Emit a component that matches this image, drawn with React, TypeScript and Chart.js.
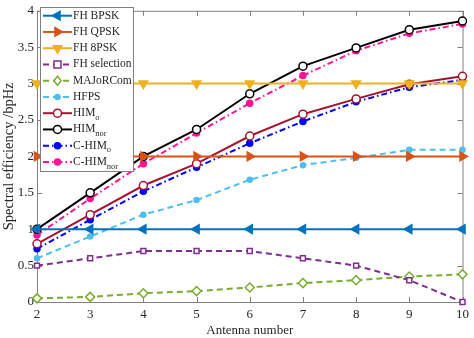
import React, { useEffect, useRef } from 'react';
import { Chart, registerables } from 'chart.js';

Chart.register(...registerables);

const antennas = [2, 3, 4, 5, 6, 7, 8, 9, 10];
const fhBpsk = [1, 1, 1, 1, 1, 1, 1, 1, 1];
const fhQpsk = [2, 2, 2, 2, 2, 2, 2, 2, 2];
const fh8psk = [3, 3, 3, 3, 3, 3, 3, 3, 3];
const fhSelection = [0.5, 0.6, 0.7, 0.7, 0.7, 0.6, 0.5, 0.3, 0.0];
const majorcom = [0.05, 0.07, 0.12, 0.15, 0.2, 0.26, 0.3, 0.35, 0.38];
const hfps = [0.6, 0.9, 1.2, 1.4, 1.68, 1.88, 1.98, 2.09, 2.09];
const himO = [0.8, 1.2, 1.6, 1.9, 2.28, 2.58, 2.79, 2.99, 3.1];
const himNor = [1.0, 1.5, 2.0, 2.37, 2.86, 3.24, 3.49, 3.74, 3.86];
const cHimO = [0.73, 1.13, 1.52, 1.85, 2.18, 2.48, 2.75, 2.95, 3.05];
const cHimNor = [0.92, 1.42, 1.9, 2.32, 2.73, 3.11, 3.45, 3.69, 3.82];
const yTicks = [0, 0.5, 1, 1.5, 2, 2.5, 3, 3.5, 4];
const xTitle = 'Antenna number';
const yTitle = 'Spectral efficiency /bpHz';

type Series = {
  main: string;
  sub: string;
  data: number[];
  color: string;
  dash: number[];
  marker: string;
  rot: number;
  radius: number;
  filled: boolean;
};

const series: Series[] = [
  { main: 'FH BPSK', sub: '', data: fhBpsk, color: '#0072BD', dash: [], marker: 'triangle', rot: -90, radius: 5, filled: true },
  { main: 'FH QPSK', sub: '', data: fhQpsk, color: '#D95319', dash: [], marker: 'triangle', rot: 90, radius: 5, filled: true },
  { main: 'FH 8PSK', sub: '', data: fh8psk, color: '#EDB120', dash: [], marker: 'triangle', rot: 180, radius: 5, filled: true },
  { main: 'FH selection', sub: '', data: fhSelection, color: '#7E2F8E', dash: [6, 4], marker: 'rect', rot: 0, radius: 3.5, filled: false },
  { main: 'MAJoRCom', sub: '', data: majorcom, color: '#77AC30', dash: [6, 4], marker: 'rectRot', rot: 0, radius: 4.5, filled: false },
  { main: 'HFPS', sub: '', data: hfps, color: '#4DBEEE', dash: [6, 4], marker: 'circle', rot: 0, radius: 2.5, filled: true },
  { main: 'HIM', sub: 'o', data: himO, color: '#A2142F', dash: [], marker: 'circle', rot: 0, radius: 4, filled: false },
  { main: 'HIM', sub: 'nor', data: himNor, color: '#000000', dash: [], marker: 'circle', rot: 0, radius: 4, filled: false },
  { main: 'C-HIM', sub: 'o', data: cHimO, color: '#0000FF', dash: [6, 3, 1.5, 3], marker: 'circle', rot: 0, radius: 3, filled: true },
  { main: 'C-HIM', sub: 'nor', data: cHimNor, color: '#FF1493', dash: [6, 3, 1.5, 3], marker: 'circle', rot: 0, radius: 3, filled: true },
];

const AXIS = '#808080';
const TEXT = '#262626';
const FONT = "'Liberation Serif', 'Times New Roman', serif";

function drawMarker(ctx: CanvasRenderingContext2D, s: Series, x: number, y: number) {
  const r = s.radius;
  ctx.save();
  ctx.setLineDash([]);
  ctx.lineWidth = 1.5;
  ctx.strokeStyle = s.color;
  ctx.fillStyle = s.filled ? s.color : '#ffffff';
  ctx.beginPath();
  if (s.marker === 'circle') {
    ctx.arc(x, y, r, 0, Math.PI * 2);
  } else if (s.marker === 'rect') {
    ctx.rect(x - r, y - r, 2 * r, 2 * r);
  } else if (s.marker === 'rectRot') {
    ctx.moveTo(x, y - r);
    ctx.lineTo(x + r * 0.8, y);
    ctx.lineTo(x, y + r);
    ctx.lineTo(x - r * 0.8, y);
    ctx.closePath();
  } else if (s.marker === 'triangle') {
    for (let k = 0; k < 3; k++) {
      const a = ((s.rot - 90 + k * 120) * Math.PI) / 180;
      const px = x + r * Math.cos(a);
      const py = y + r * Math.sin(a);
      if (k === 0) ctx.moveTo(px, py);
      else ctx.lineTo(px, py);
    }
    ctx.closePath();
  }
  ctx.fill();
  ctx.stroke();
  ctx.restore();
}

const framePlugin = {
  id: 'frame',
  beforeDatasetsDraw(chart: any) {
    const { ctx, chartArea } = chart;
    const { left, right, top, bottom } = chartArea;
    const xs = chart.scales.x;
    const ys = chart.scales.y;
    ctx.save();
    ctx.strokeStyle = AXIS;
    ctx.lineWidth = 1;
    ctx.strokeRect(left + 0.5, top + 0.5, right - left, bottom - top);
    ctx.beginPath();
    antennas.forEach((_, i) => {
      const px = Math.round(xs.getPixelForValue(i)) + 0.5;
      ctx.moveTo(px, bottom);
      ctx.lineTo(px, bottom - 5);
      ctx.moveTo(px, top);
      ctx.lineTo(px, top + 5);
    });
    yTicks.forEach((v) => {
      const py = Math.round(ys.getPixelForValue(v)) + 0.5;
      ctx.moveTo(left, py);
      ctx.lineTo(left + 5, py);
      ctx.moveTo(right, py);
      ctx.lineTo(right - 5, py);
    });
    ctx.stroke();
    ctx.restore();
  },
};

const legendPlugin = {
  id: 'customLegend',
  afterDraw(chart: any) {
    const { ctx } = chart;
    const bx = 40, by = 7, bw = 93, bh = 164;
    ctx.save();
    ctx.fillStyle = '#ffffff';
    ctx.fillRect(bx, by, bw, bh);
    ctx.strokeStyle = AXIS;
    ctx.lineWidth = 1;
    ctx.strokeRect(bx + 0.5, by + 0.5, bw, bh);
    series.forEach((s, i) => {
      const y = 15.7 + i * 16.25;
      ctx.save();
      ctx.strokeStyle = s.color;
      ctx.lineWidth = 2;
      ctx.setLineDash(s.dash);
      ctx.beginPath();
      ctx.moveTo(43, y);
      ctx.lineTo(72, y);
      ctx.stroke();
      ctx.restore();
      drawMarker(ctx, s, 57.5, y);
      ctx.fillStyle = TEXT;
      ctx.textBaseline = 'middle';
      ctx.textAlign = 'left';
      ctx.font = `11.5px ${FONT}`;
      ctx.fillText(s.main, 73, y);
      if (s.sub) {
        const w = ctx.measureText(s.main).width;
        ctx.font = `8.5px ${FONT}`;
        ctx.fillText(s.sub, 73 + w, y + 4.5);
      }
    });
    ctx.restore();
  },
};

export default function App() {
  const ref = useRef<HTMLCanvasElement | null>(null);

  useEffect(() => {
    document.body.style.margin = '0';
    const canvas = ref.current;
    if (!canvas) return;
    const chart = new Chart(canvas, {
      type: 'line',
      data: {
        labels: antennas.map(String),
        datasets: series.map((s) => ({
          label: s.main + s.sub,
          data: s.data,
          borderColor: s.color,
          backgroundColor: s.filled ? s.color : '#ffffff',
          borderWidth: 2,
          borderDash: s.dash,
          pointStyle: s.marker as any,
          pointRotation: s.rot,
          pointRadius: s.marker === 'triangle' ? 5 : s.radius,
          pointBorderWidth: 1.5,
          pointBorderColor: s.color,
          pointBackgroundColor: s.filled ? s.color : '#ffffff',
          tension: 0,
          clip: false as any,
        })),
      },
      options: {
        responsive: false,
        animation: false,
        devicePixelRatio: 1,
        layout: { padding: { top: 4, right: 7, left: 0, bottom: 0 } },
        plugins: {
          legend: { display: false },
          tooltip: { enabled: false },
        },
        scales: {
          x: {
            type: 'category',
            offset: false,
            grid: { display: false, drawTicks: false },
            border: { display: false },
            ticks: {
              color: TEXT,
              font: { family: FONT, size: 13 },
              padding: 5,
              maxRotation: 0,
              autoSkip: false,
            },
            title: {
              display: true,
              text: xTitle,
              color: TEXT,
              font: { family: FONT, size: 13 },
              padding: { top: 0, bottom: 0 },
            },
            afterFit: (scale: any) => {
              scale.height = 36;
            },
          },
          y: {
            type: 'linear',
            min: 0,
            max: 4,
            grid: { display: false, drawTicks: false },
            border: { display: false },
            afterBuildTicks: (scale: any) => {
              scale.ticks = yTicks.map((v) => ({ value: v }));
            },
            ticks: {
              color: TEXT,
              font: { family: FONT, size: 13 },
              padding: 3,
              callback: (v: any) => String(v),
            },
            title: {
              display: true,
              text: yTitle,
              color: TEXT,
              font: { family: FONT, size: 14.5 },
              padding: { top: 0, bottom: 0 },
            },
            afterFit: (scale: any) => {
              scale.width = 37;
            },
          },
        },
      },
      plugins: [framePlugin, legendPlugin],
    });
    return () => chart.destroy();
  }, []);

  return (
    <div style={{ width: 474, height: 338 }}>
      <canvas ref={ref} width={474} height={338} />
    </div>
  );
}
